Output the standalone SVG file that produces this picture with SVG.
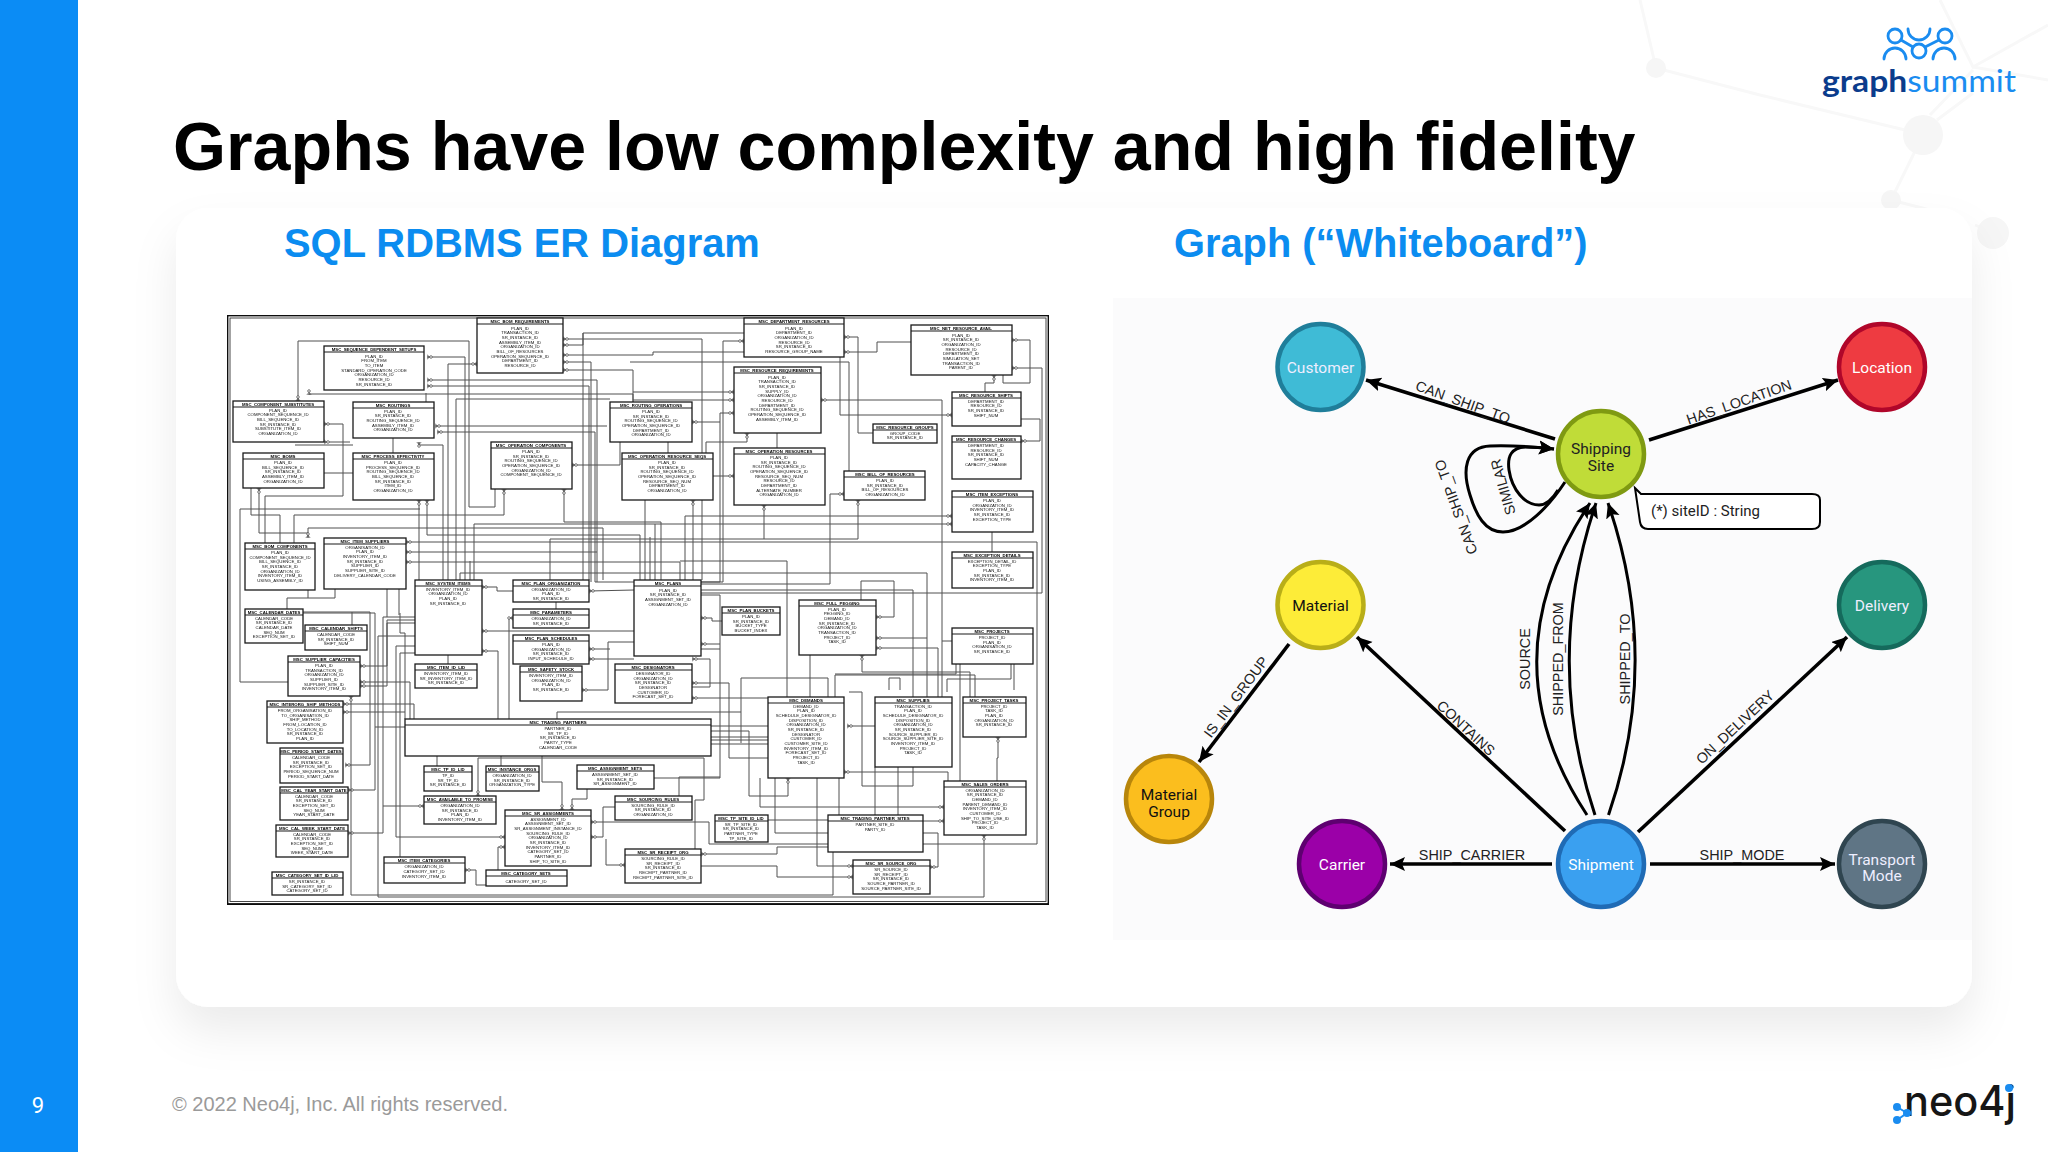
<svg xmlns="http://www.w3.org/2000/svg" width="2048" height="1152" viewBox="0 0 2048 1152">
<style>
.ln{fill:none;stroke:#505050;stroke-width:1}
.t rect{fill:#fff;stroke:#1a1a1a;stroke-width:1.3}
.t path{stroke:#1a1a1a;stroke-width:1.2;fill:none}
.t text{font-family:"Liberation Sans",Arial,sans-serif;fill:#111;text-anchor:middle}
.t .h{font-size:4.3px;font-weight:700;fill:#000}
.t .r{font-size:4.3px}
.e{fill:none;stroke:#000;stroke-width:3.6;marker-end:url(#ah)}
.e2{fill:none;stroke:#000;stroke-width:3;marker-end:url(#ah)}
.el{font-family:"Liberation Sans",Arial,sans-serif;font-size:14.4px;fill:#222;text-anchor:middle}
.n circle{stroke-width:4.5}
.n text{font-family:Roboto,sans-serif;font-size:15.5px;text-anchor:middle}
.bg{fill:none;stroke:#f8f8f8;stroke-width:3}
.bd{fill:#f6f6f6}
</style>
<defs>
<marker id="ah" markerUnits="userSpaceOnUse" markerWidth="18" markerHeight="16" refX="15" refY="7" orient="auto"><path d="M0,0L15,7L0,14L3,7Z" fill="#000"/></marker>
<marker id="m" markerUnits="userSpaceOnUse" markerWidth="8" markerHeight="8" refX="0" refY="4" orient="auto"><path d="M0,1.8L2.6,4L0,6.2M2.6,4H0" fill="none" stroke="#444" stroke-width=".7"/><circle cx="4" cy="4" r="1.3" fill="#fff" stroke="#444" stroke-width=".7"/></marker>
<filter id="card" x="-5%" y="-8%" width="110%" height="118%"><feDropShadow dx="0" dy="24" stdDeviation="22" flood-color="#000" flood-opacity=".08"/></filter>
<filter id="soft" x="0" y="0" width="100%" height="100%"><feGaussianBlur stdDeviation=".3"/></filter>
</defs>

<rect width="2048" height="1152" fill="#fff"/>
<g id="bg-network">
<path class="bg" d="M1656,68L1760,95L1905,130M1923,135L1891,200M1937,120L1973,93M1940,0L1973,67L2048,25M1973,67L2048,80M1973,70L1930,115M1656,68L1640,0M1891,200L1930,210M1975,225L1993,233"/>
<circle class="bd" cx="1656" cy="68" r="10"/><circle class="bd" cx="1923" cy="135" r="20"/><circle class="bd" cx="1891" cy="200" r="10"/><circle class="bd" cx="1993" cy="233" r="16"/>
</g>
<rect id="card-panel" x="176" y="208" width="1796" height="799" rx="32" fill="#fff" filter="url(#card)"/>
<rect id="graph-panel" x="1113" y="298" width="859" height="642" fill="#fbfbfc"/>
<rect id="side-bar" x="0" y="0" width="78" height="1152" fill="#0b8cf5"/>
<text x="38" y="1113" font-family="Roboto,sans-serif" font-size="22" fill="#fff" text-anchor="middle">9</text>
<text id="title" x="173" y="170" font-family="'Liberation Sans',Arial,sans-serif" font-weight="700" font-size="68.200" fill="#000">Graphs have low complexity and high fidelity</text>
<text x="284" y="257" font-family="'Liberation Sans',Arial,sans-serif" font-weight="700" font-size="39.900" fill="#0b8cf0">SQL RDBMS ER Diagram</text>
<text x="1174" y="257" font-family="'Liberation Sans',Arial,sans-serif" font-weight="700" font-size="39.800" fill="#0b8cf0">Graph (“Whiteboard”)</text>
<text x="172" y="1111" font-family="'Liberation Sans',Arial,sans-serif" font-size="20" fill="#9a9a9a">© 2022 Neo4j, Inc. All rights reserved.</text>

<g id="logo-graphsummit">
<g fill="none" stroke="#1a8cf0" stroke-width="2.8" stroke-linecap="round">
<circle cx="1895" cy="36" r="7"/><circle cx="1919" cy="51" r="7"/><circle cx="1945" cy="36" r="7"/>
<path d="M1901,40L1913,47M1925,47L1939,40M1908,29A11,11 0 0 0 1930,29M1884,59A11,11 0 0 1 1906,59M1933,59A11,11 0 0 1 1955,59"/>
</g>
<text x="1822" y="92" font-family="Lato,'Open Sans',sans-serif" font-size="31" textLength="194" lengthAdjust="spacingAndGlyphs"><tspan font-weight="700" fill="#0b3c8c">graph</tspan><tspan fill="#1a8cf0">summit</tspan></text>
</g>
<g id="logo-neo4j">
<text x="1904" y="1116" font-family="Inter,sans-serif" font-weight="500" font-size="42" fill="#161616" textLength="112" lengthAdjust="spacingAndGlyphs">neo4j</text>
<circle cx="2009" cy="1088" r="4" fill="#1a8cf0"/>
<path d="M1897,1107L1907,1113L1897,1120" fill="none" stroke="#1a8cf0" stroke-width="2"/>
<circle cx="1897" cy="1107" r="4" fill="#1a8cf0"/><circle cx="1907" cy="1113" r="4" fill="#1a8cf0"/><circle cx="1897" cy="1120" r="4" fill="#1a8cf0"/>
</g>

<g id="er-diagram" filter="url(#soft)">
<rect x="227" y="315" width="822" height="589.500" fill="#fff" stroke="#111" stroke-width="2.8"/>
<rect x="230" y="318" width="816" height="583.500" fill="none" stroke="#333" stroke-width=".9"/>
<g id="er-connectors" class="ln">
<g marker-start="url(#m)">
<polyline points="298,401 298,341 469,341 469,507 495,507 495,489"/>
<polyline points="309,395 309,394 633,394 633,402"/>
<polyline points="427,357 465,357 465,580"/>
<polyline points="427,380 597,380 597,582"/>
<polyline points="427,386 589,386 589,580"/>
<polyline points="477,364 448,364 448,580"/>
<polyline points="435,426 607,426"/>
<polyline points="437,432 595,432 595,582 634,582"/>
<polyline points="419,442 419,445 443,445 443,580"/>
<polyline points="324,424 343,424 343,496 265,496 265,543"/>
<polyline points="324,442 350,442"/>
<polyline points="259,488 259,533 308,533"/>
<polyline points="419,500 419,580"/>
<polyline points="427,500 427,535 640,535 640,580"/>
<polyline points="504,489 504,515 294,515 294,543"/>
<polyline points="308,538 308,528 603,528 603,580"/>
<polyline points="564,489 564,522 661,522 661,580"/>
<polyline points="572,465 620,465 620,442"/>
<polyline points="563,345 583,345 583,333 744,333"/>
<polyline points="563,339 702,339 702,580"/>
<polyline points="563,355 653,355 653,352 744,352"/>
<polyline points="563,362 591,362 591,582"/>
<polyline points="563,370 633,370 633,402"/>
<polyline points="406,542 1037,542 1037,844 923,844"/>
<polyline points="406,552 597,552"/>
<polyline points="406,562 680,562 680,580"/>
<polyline points="744,341 723,341 723,582 701,582"/>
<polyline points="844,337 858,337 858,433 873,433"/>
<polyline points="844,352 877,352 877,342 911,342"/>
<polyline points="952,415 840,415 840,357"/>
<polyline points="1012,340 1030,340 1030,383 1003,383 1003,375"/>
<polyline points="1012,368 1042,368 1042,593 701,593"/>
<polyline points="994,375 994,383 985,383 985,392"/>
<polyline points="1021,441 1040,441 1040,419 1021,419"/>
<polyline points="821,400 942,400 942,697"/>
<polyline points="734,392 633,392"/>
<polyline points="734,400 633,400"/>
<polyline points="734,413 720,413 720,582 701,582"/>
<polyline points="747,433 747,442 706,442 706,453"/>
<polyline points="734,476 713,476"/>
<polyline points="692,422 720,422"/>
<polyline points="693,500 693,580"/>
<polyline points="858,500 858,539 550,539 550,580"/>
<polyline points="764,505 764,539"/>
<polyline points="844,494 830,494 830,584 701,584"/>
<polyline points="952,516 685,516 685,580"/>
<polyline points="952,524 474,524 474,580"/>
<polyline points="701,618 712,618 712,621 722,621"/>
<polyline points="701,644 720,644"/>
<polyline points="692,659 710,659 710,687 692,687"/>
<polyline points="692,683 729,683 729,758 768,758"/>
<polyline points="692,698 768,698"/>
<polyline points="876,617 894,617 894,581 861,581 861,600"/>
<polyline points="876,638 927,638"/>
<polyline points="876,648 938,648 938,697"/>
<polyline points="862,655 862,672 970,672 970,697"/>
<polyline points="847,726 875,726"/>
<polyline points="788,778 788,796 749,796 749,731 711,731"/>
<polyline points="844,772 948,772 948,781"/>
<polyline points="944,807 760,807 760,778"/>
<polyline points="944,821 923,821"/>
<polyline points="984,835 984,897 378,897 378,636 415,636"/>
<polyline points="930,867 938,867 938,833 923,833"/>
<polyline points="998,737 998,758 997,758 997,781"/>
<polyline points="701,854 777,854 777,847 828,847"/>
<polyline points="853,866 817,866 817,778"/>
<polyline points="853,877 777,877 777,866 701,866"/>
<polyline points="345,765 370,765 370,612 303,612"/>
<polyline points="348,790 375,790 375,613 303,613"/>
<polyline points="348,833 383,833 383,617 415,617"/>
<polyline points="360,666 387,666 387,620 415,620"/>
<polyline points="360,682 410,682 410,719"/>
<polyline points="360,686 387,686 387,623 415,623"/>
<polyline points="343,704 414,704 414,719"/>
<polyline points="343,712 405,712"/>
<polyline points="351,696 351,895 833,895 833,852"/>
<polyline points="424,806 383,806"/>
<polyline points="505,837 396,837 396,646 415,646"/>
<polyline points="505,847 498,847 498,870"/>
<polyline points="465,870 476,870 476,885 486,885"/>
<polyline points="482,651 498,651 498,719"/>
<polyline points="482,631 634,631"/>
<polyline points="513,618 509,618 509,719"/>
<polyline points="582,690 608,690 608,642 634,642"/>
<polyline points="589,649 610,649"/>
<polyline points="589,659 634,659"/>
<polyline points="591,822 709,822 709,844 828,844"/>
<polyline points="591,837 603,837 603,807 615,807"/>
<polyline points="625,865 606,865 606,839"/>
<polyline points="482,587 497,587 497,591 513,591"/>
<polyline points="589,591 634,590"/>
<polyline points="478,796 478,758 704,758 704,800 695,800 695,849"/>
<polyline points="562,810 562,782 542,782 542,756"/>
<polyline points="572,810 572,799 587,799 587,789"/>
</g>
<polyline points="456,580 456,399 610,399"/>
<polyline points="426,393 426,402"/>
<polyline points="393,438 393,453"/>
<polyline points="295,445 353,445"/>
<polyline points="324,473 353,473"/>
<polyline points="251,488 251,515 280,515 280,543"/>
<polyline points="240,509 420,509"/>
<polyline points="240,509 240,682 288,682"/>
<polyline points="460,580 460,573 927,573 927,697"/>
<polyline points="470,580 470,561"/>
<polyline points="583,333 583,580"/>
<polyline points="849,362 630,362"/>
<polyline points="849,362 849,471"/>
<polyline points="777,433 777,448"/>
<polyline points="668,442 668,453"/>
<polyline points="645,500 645,580"/>
<polyline points="650,537 650,580"/>
<polyline points="655,524 655,580"/>
<polyline points="992,532 992,552"/>
<polyline points="680,561 787,561 787,697"/>
<polyline points="701,590 913,590 913,697"/>
<polyline points="701,595 720,595 720,778 653,778"/>
<polyline points="741,678 741,743"/>
<polyline points="741,678 828,678 828,697"/>
<polyline points="701,649 720,649"/>
<polyline points="835,697 835,675 975,675 975,697"/>
<polyline points="810,655 810,697"/>
<polyline points="889,690 889,678 900,678 900,690"/>
<polyline points="947,692 947,679 1011,679 1011,664"/>
<polyline points="1014,664 1014,690"/>
<polyline points="960,664 960,781"/>
<polyline points="952,641 942,641"/>
<polyline points="956,664 956,674 835,674"/>
<polyline points="711,726 768,726"/>
<polyline points="711,737 768,737"/>
<polyline points="711,740 768,740"/>
<polyline points="711,744 768,744"/>
<polyline points="898,767 898,815"/>
<polyline points="875,767 875,815"/>
<polyline points="839,778 839,815"/>
<polyline points="775,778 775,833 828,833"/>
<polyline points="768,820 828,820"/>
<polyline points="862,692 849,692"/>
<polyline points="862,692 862,786 913,786 913,767"/>
<polyline points="679,796 679,777 720,777"/>
<polyline points="557,719 557,712 741,712"/>
<polyline points="352,612 352,625"/>
<polyline points="375,727 405,727"/>
<polyline points="400,613 400,633 405,633 405,719"/>
<polyline points="387,589 387,617"/>
<polyline points="400,653 415,653"/>
<polyline points="400,653 400,857"/>
<polyline points="437,756 437,766"/>
<polyline points="501,756 501,766"/>
<polyline points="287,609 287,598 335,598 335,589"/>
<polyline points="308,590 308,598"/>
<polyline points="399,589 399,615"/>
<polyline points="448,655 448,664"/>
<polyline points="556,602 556,609"/>
</g>

<g id="er-tables" class="t">
<g id="t-bomreq"><rect x="477" y="318" width="86" height="55"/><path d="M477,324h86"/><text class="h" x="520" y="322.700">MSC_BOM_REQUIREMENTS</text><text class="r"><tspan x="520" y="329.500">PLAN_ID</tspan><tspan x="520" dy="4.670">TRANSACTION_ID</tspan><tspan x="520" dy="4.670">SR_INSTANCE_ID</tspan><tspan x="520" dy="4.670">ASSEMBLY_ITEM_ID</tspan><tspan x="520" dy="4.670">ORGANIZATION_ID</tspan><tspan x="520" dy="4.670">BILL_OF_RESOURCES</tspan><tspan x="520" dy="4.670">OPERATION_SEQUENCE_ID</tspan><tspan x="520" dy="4.670">DEPARTMENT_ID</tspan><tspan x="520" dy="4.670">RESOURCE_ID</tspan></text></g>
<g id="t-seq"><rect x="324" y="346" width="100" height="44"/><path d="M324,352h100"/><text class="h" x="374" y="350.700">MSC_SEQUENCE_DEPENDENT_SETUPS</text><text class="r"><tspan x="374" y="357.500">PLAN_ID</tspan><tspan x="374" dy="4.670">FROM_ITEM</tspan><tspan x="374" dy="4.670">TO_ITEM</tspan><tspan x="374" dy="4.670">STANDARD_OPERATION_CODE</tspan><tspan x="374" dy="4.670">ORGANIZATION_ID</tspan><tspan x="374" dy="4.670">RESOURCE_ID</tspan><tspan x="374" dy="4.670">SR_INSTANCE_ID</tspan></text></g>
<g id="t-compsub"><rect x="233" y="401" width="91" height="41"/><path d="M233,407h91"/><text class="h" x="278" y="405.700">MSC_COMPONENT_SUBSTITUTES</text><text class="r"><tspan x="278" y="411.500">PLAN_ID</tspan><tspan x="278" dy="4.670">COMPONENT_SEQUENCE_ID</tspan><tspan x="278" dy="4.670">BILL_SEQUENCE_ID</tspan><tspan x="278" dy="4.670">SR_INSTANCE_ID</tspan><tspan x="278" dy="4.670">SUBSTITUTE_ITEM_ID</tspan><tspan x="278" dy="4.670">ORGANIZATION_ID</tspan></text></g>
<g id="t-routings"><rect x="353" y="402" width="81" height="36"/><path d="M353,408h81"/><text class="h" x="393" y="406.700">MSC_ROUTINGS</text><text class="r"><tspan x="393" y="412.500">PLAN_ID</tspan><tspan x="393" dy="4.670">SR_INSTANCE_ID</tspan><tspan x="393" dy="4.670">ROUTING_SEQUENCE_ID</tspan><tspan x="393" dy="4.670">ASSEMBLY_ITEM_ID</tspan><tspan x="393" dy="4.670">ORGANIZATION_ID</tspan></text></g>
<g id="t-boms"><rect x="243" y="453" width="81" height="35"/><path d="M243,459h81"/><text class="h" x="283" y="457.700">MSC_BOMS</text><text class="r"><tspan x="283" y="464">PLAN_ID</tspan><tspan x="283" dy="4.670">BILL_SEQUENCE_ID</tspan><tspan x="283" dy="4.670">SR_INSTANCE_ID</tspan><tspan x="283" dy="4.670">ASSEMBLY_ITEM_ID</tspan><tspan x="283" dy="4.670">ORGANIZATION_ID</tspan></text></g>
<g id="t-proceff"><rect x="353" y="453" width="81" height="47"/><path d="M353,459h81"/><text class="h" x="393" y="457.700">MSC_PROCESS_EFFECTIVITY</text><text class="r"><tspan x="393" y="464">PLAN_ID</tspan><tspan x="393" dy="4.670">PROCESS_SEQUENCE_ID</tspan><tspan x="393" dy="4.670">ROUTING_SEQUENCE_ID</tspan><tspan x="393" dy="4.670">BILL_SEQUENCE_ID</tspan><tspan x="393" dy="4.670">SR_INSTANCE_ID</tspan><tspan x="393" dy="4.670">ITEM_ID</tspan><tspan x="393" dy="4.670">ORGANIZATION_ID</tspan></text></g>
<g id="t-opcomp"><rect x="491" y="442" width="81" height="47"/><path d="M491,448h81"/><text class="h" x="531" y="446.700">MSC_OPERATION_COMPONENTS</text><text class="r"><tspan x="531" y="453">PLAN_ID</tspan><tspan x="531" dy="4.670">SR_INSTANCE_ID</tspan><tspan x="531" dy="4.670">ROUTING_SEQUENCE_ID</tspan><tspan x="531" dy="4.670">OPERATION_SEQUENCE_ID</tspan><tspan x="531" dy="4.670">ORGANIZATION_ID</tspan><tspan x="531" dy="4.670">COMPONENT_SEQUENCE_ID</tspan></text></g>
<g id="t-bomcomp"><rect x="245" y="543" width="70" height="47"/><path d="M245,549h70"/><text class="h" x="280" y="547.700">MSC_BOM_COMPONENTS</text><text class="r"><tspan x="280" y="554">PLAN_ID</tspan><tspan x="280" dy="4.670">COMPONENT_SEQUENCE_ID</tspan><tspan x="280" dy="4.670">BILL_SEQUENCE_ID</tspan><tspan x="280" dy="4.670">SR_INSTANCE_ID</tspan><tspan x="280" dy="4.670">ORGANIZATION_ID</tspan><tspan x="280" dy="4.670">INVENTORY_ITEM_ID</tspan><tspan x="280" dy="4.670">USING_ASSEMBLY_ID</tspan></text></g>
<g id="t-itemsup"><rect x="324" y="538" width="82" height="51"/><path d="M324,544h82"/><text class="h" x="365" y="542.700">MSC_ITEM_SUPPLIERS</text><text class="r"><tspan x="365" y="548.500">ORGANISATION_ID</tspan><tspan x="365" dy="4.670">PLAN_ID</tspan><tspan x="365" dy="4.670">INVENTORY_ITEM_ID</tspan><tspan x="365" dy="4.670">SR_INSTANCE_ID</tspan><tspan x="365" dy="4.670">SUPPLIER_ID</tspan><tspan x="365" dy="4.670">SUPPLIER_SITE_ID</tspan><tspan x="365" dy="4.670">DELIVERY_CALENDAR_CODE</tspan></text></g>
<g id="t-sysitems"><rect x="415" y="580" width="67" height="75"/><path d="M415,586h67"/><text class="h" x="448" y="584.700">MSC_SYSTEM_ITEMS</text><text class="r"><tspan x="448" y="590.500">INVENTORY_ITEM_ID</tspan><tspan x="448" dy="4.670">ORGANIZATION_ID</tspan><tspan x="448" dy="4.670">PLAN_ID</tspan><tspan x="448" dy="4.670">SR_INSTANCE_ID</tspan></text></g>
<g id="t-planorg"><rect x="513" y="580" width="76" height="22"/><path d="M513,586h76"/><text class="h" x="551" y="584.700">MSC_PLAN_ORGANIZATION</text><text class="r"><tspan x="551" y="590.500">ORGANIZATION_ID</tspan><tspan x="551" dy="4.670">PLAN_ID</tspan><tspan x="551" dy="4.670">SR_INSTANCE_ID</tspan></text></g>
<g id="t-params"><rect x="513" y="609" width="76" height="19"/><path d="M513,615h76"/><text class="h" x="551" y="613.500">MSC_PARAMETERS</text><text class="r"><tspan x="551" y="620">ORGANIZATION_ID</tspan><tspan x="551" dy="4.670">SR_INSTANCE_ID</tspan></text></g>
<g id="t-plansched"><rect x="513" y="635" width="76" height="29"/><path d="M513,641h76"/><text class="h" x="551" y="639.500">MSC_PLAN_SCHEDULES</text><text class="r"><tspan x="551" y="646">PLAN_ID</tspan><tspan x="551" dy="4.670">ORGANIZATION_ID</tspan><tspan x="551" dy="4.670">SR_INSTANCE_ID</tspan><tspan x="551" dy="4.670">INPUT_SCHEDULE_ID</tspan></text></g>
<g id="t-safety"><rect x="520" y="666" width="62" height="35"/><path d="M520,672h62"/><text class="h" x="551" y="670.700">MSC_SAFETY_STOCK</text><text class="r"><tspan x="551" y="677">INVENTORY_ITEM_ID</tspan><tspan x="551" dy="4.670">ORGANIZATION_ID</tspan><tspan x="551" dy="4.670">PLAN_ID</tspan><tspan x="551" dy="4.670">SR_INSTANCE_ID</tspan></text></g>
<g id="t-caldates"><rect x="245" y="609" width="58" height="34"/><path d="M245,615h58"/><text class="h" x="274" y="613.500">MSC_CALENDAR_DATES</text><text class="r"><tspan x="274" y="619.500">CALENDAR_CODE</tspan><tspan x="274" dy="4.670">SR_INSTANCE_ID</tspan><tspan x="274" dy="4.670">CALENDAR_DATE</tspan><tspan x="274" dy="4.670">SEQ_NUM</tspan><tspan x="274" dy="4.670">EXCEPTION_SET_ID</tspan></text></g>
<g id="t-calshifts"><rect x="305" y="625" width="62" height="25"/><path d="M305,631h62"/><text class="h" x="336" y="629.700">MSC_CALENDAR_SHIFTS</text><text class="r"><tspan x="336" y="636">CALENDAR_CODE</tspan><tspan x="336" dy="4.670">SR_INSTANCE_ID</tspan><tspan x="336" dy="4.670">SHIFT_NUM</tspan></text></g>
<g id="t-supcap"><rect x="288" y="656" width="72" height="40"/><path d="M288,662h72"/><text class="h" x="324" y="660.700">MSC_SUPPLIER_CAPACITIES</text><text class="r"><tspan x="324" y="667">PLAN_ID</tspan><tspan x="324" dy="4.670">TRANSACTION_ID</tspan><tspan x="324" dy="4.670">ORGANIZATION_ID</tspan><tspan x="324" dy="4.670">SUPPLIER_ID</tspan><tspan x="324" dy="4.670">SUPPLIER_SITE_ID</tspan><tspan x="324" dy="4.670">INVENTORY_ITEM_ID</tspan></text></g>
<g id="t-interorg"><rect x="267" y="701" width="76" height="42"/><path d="M267,707h76"/><text class="h" x="305" y="705.700">MSC_INTERORG_SHIP_METHODS</text><text class="r"><tspan x="305" y="712">FROM_ORGANISATION_ID</tspan><tspan x="305" dy="4.670">TO_ORGANISATION_ID</tspan><tspan x="305" dy="4.670">SHIP_METHOD</tspan><tspan x="305" dy="4.670">FROM_LOCATION_ID</tspan><tspan x="305" dy="4.670">TO_LOCATION_ID</tspan><tspan x="305" dy="4.670">SR_INSTANCE_ID</tspan><tspan x="305" dy="4.670">PLAN_ID</tspan></text></g>
<g id="t-period"><rect x="280" y="748" width="63" height="35"/><path d="M280,754h63"/><text class="h" x="311" y="752.500">MSC_PERIOD_START_DATES</text><text class="r"><tspan x="311" y="759">CALENDAR_CODE</tspan><tspan x="311" dy="4.670">SR_INSTANCE_ID</tspan><tspan x="311" dy="4.670">EXCEPTION_SET_ID</tspan><tspan x="311" dy="4.670">PERIOD_SEQUENCE_NUM</tspan><tspan x="311" dy="4.670">PERIOD_START_DATE</tspan></text></g>
<g id="t-calyear"><rect x="280" y="787" width="68" height="33"/><path d="M280,793h68"/><text class="h" x="314" y="791.500">MSC_CAL_YEAR_START_DATE</text><text class="r"><tspan x="314" y="797.500">CALENDAR_CODE</tspan><tspan x="314" dy="4.670">SR_INSTANCE_ID</tspan><tspan x="314" dy="4.670">EXCEPTION_SET_ID</tspan><tspan x="314" dy="4.670">SEQ_NUM</tspan><tspan x="314" dy="4.670">YEAR_START_DATE</tspan></text></g>
<g id="t-calweek"><rect x="276" y="825" width="72" height="32"/><path d="M276,831h72"/><text class="h" x="312" y="829.500">MSC_CAL_WEEK_START_DATE</text><text class="r"><tspan x="312" y="835.500">CALENDAR_CODE</tspan><tspan x="312" dy="4.670">SR_INSTANCE_ID</tspan><tspan x="312" dy="4.670">EXCEPTION_SET_ID</tspan><tspan x="312" dy="4.670">SEQ_NUM</tspan><tspan x="312" dy="4.670">WEEK_START_DATE</tspan></text></g>
<g id="t-catlid"><rect x="272" y="872" width="71" height="23"/><path d="M272,878h71"/><text class="h" x="307" y="876.500">MSC_CATEGORY_SET_ID_LID</text><text class="r"><tspan x="307" y="883">SR_INSTANCE_ID</tspan><tspan x="307" dy="4.670">SR_CATEGORY_SET_ID</tspan><tspan x="307" dy="4.670">CATEGORY_SET_ID</tspan></text></g>
<g id="t-itemlid"><rect x="415" y="664" width="62" height="24"/><path d="M415,670h62"/><text class="h" x="446" y="668.500">MSC_ITEM_ID_LID</text><text class="r"><tspan x="446" y="675">INVENTORY_ITEM_ID</tspan><tspan x="446" dy="4.670">SR_INVENTORY_ITEM_ID</tspan><tspan x="446" dy="4.670">SR_INSTANCE_ID</tspan></text></g>
<g id="t-tradpart"><rect x="405" y="719" width="306" height="37"/><path d="M405,725h306"/><text class="h" x="558" y="723.500">MSC_TRADING_PARTNERS</text><text class="r"><tspan x="558" y="730">PARTNER_ID</tspan><tspan x="558" dy="4.670">SR_TP_ID</tspan><tspan x="558" dy="4.670">SR_INSTANCE_ID</tspan><tspan x="558" dy="4.670">PARTY_TYPE</tspan><tspan x="558" dy="4.670">CALENDAR_CODE</tspan></text></g>
<g id="t-tplid"><rect x="424" y="766" width="48" height="25"/><path d="M424,772h48"/><text class="h" x="448" y="770.500">MSC_TP_ID_LID</text><text class="r"><tspan x="448" y="777">TP_ID</tspan><tspan x="448" dy="4.670">SR_TP_ID</tspan><tspan x="448" dy="4.670">SR_INSTANCE_ID</tspan></text></g>
<g id="t-instorg"><rect x="486" y="766" width="53" height="25"/><path d="M486,772h53"/><text class="h" x="512" y="770.500">MSC_INSTANCE_ORGS</text><text class="r"><tspan x="512" y="777">ORGANIZATION_ID</tspan><tspan x="512" dy="4.670">SR_INSTANCE_ID</tspan><tspan x="512" dy="4.670">ORGANIZATION_TYPE</tspan></text></g>
<g id="t-atp"><rect x="424" y="796" width="72" height="28"/><path d="M424,802h72"/><text class="h" x="460" y="800.500">MSC_AVAILABLE_TO_PROMISE</text><text class="r"><tspan x="460" y="807">ORGANIZATION_ID</tspan><tspan x="460" dy="4.670">SR_INSTANCE_ID</tspan><tspan x="460" dy="4.670">PLAN_ID</tspan><tspan x="460" dy="4.670">INVENTORY_ITEM_ID</tspan></text></g>
<g id="t-srassign"><rect x="505" y="810" width="86" height="56"/><path d="M505,816h86"/><text class="h" x="548" y="814.500">MSC_SR_ASSIGNMENTS</text><text class="r"><tspan x="548" y="820.500">ASSIGNMENT_ID</tspan><tspan x="548" dy="4.670">ASSIGNMENT_SET_ID</tspan><tspan x="548" dy="4.670">SR_ASSIGNMENT_INSTANCE_ID</tspan><tspan x="548" dy="4.670">SOURCING_RULE_ID</tspan><tspan x="548" dy="4.670">ORGANIZATION_ID</tspan><tspan x="548" dy="4.670">SR_INSTANCE_ID</tspan><tspan x="548" dy="4.670">INVENTORY_ITEM_ID</tspan><tspan x="548" dy="4.670">CATEGORY_SET_ID</tspan><tspan x="548" dy="4.670">PARTNER_ID</tspan><tspan x="548" dy="4.670">SHIP_TO_SITE_ID</tspan></text></g>
<g id="t-itemcat"><rect x="384" y="857" width="81" height="26"/><path d="M384,863h81"/><text class="h" x="424" y="861.500">MSC_ITEM_CATEGORIES</text><text class="r"><tspan x="424" y="868">ORGANIZATION_ID</tspan><tspan x="424" dy="4.670">CATEGORY_SET_ID</tspan><tspan x="424" dy="5.500">INVENTORY_ITEM_ID</tspan></text></g>
<g id="t-catsets"><rect x="486" y="870" width="81" height="16"/><path d="M486,876h81"/><text class="h" x="526" y="874.500">MSC_CATEGORY_SETS</text><text class="r" x="526" y="882.500">CATEGORY_SET_ID</text></g>
<g id="t-assignsets"><rect x="577" y="765" width="77" height="24"/><path d="M577,771h77"/><text class="h" x="615" y="769.500">MSC_ASSIGNMENT_SETS</text><text class="r"><tspan x="615" y="776">ASSIGNMENT_SET_ID</tspan><tspan x="615" dy="4.670">SR_INSTANCE_ID</tspan><tspan x="615" dy="4.670">SR_ASSIGNMENT_ID</tspan></text></g>
<g id="t-sourcing"><rect x="615" y="796" width="77" height="24"/><path d="M615,802h77"/><text class="h" x="653" y="800.500">MSC_SOURCING_RULES</text><text class="r"><tspan x="653" y="806.500">SOURCING_RULE_ID</tspan><tspan x="653" dy="4.670">SR_INSTANCE_ID</tspan><tspan x="653" dy="4.670">ORGANIZATION_ID</tspan></text></g>
<g id="t-srreceipt"><rect x="625" y="849" width="76" height="34"/><path d="M625,855h76"/><text class="h" x="663" y="853.500">MSC_SR_RECEIPT_ORG</text><text class="r"><tspan x="663" y="860">SOURCING_RULE_ID</tspan><tspan x="663" dy="4.670">SR_RECEIPT_ID</tspan><tspan x="663" dy="4.670">SR_INSTANCE_ID</tspan><tspan x="663" dy="4.670">RECEIPT_PARTNER_ID</tspan><tspan x="663" dy="4.670">RECEIPT_PARTNER_SITE_ID</tspan></text></g>
<g id="t-designators"><rect x="615" y="664" width="77" height="39"/><path d="M615,670h77"/><text class="h" x="653" y="668.500">MSC_DESIGNATORS</text><text class="r"><tspan x="653" y="675">DESIGNATOR_ID</tspan><tspan x="653" dy="4.670">ORGANIZATION_ID</tspan><tspan x="653" dy="4.670">SR_INSTANCE_ID</tspan><tspan x="653" dy="4.670">DESIGNATOR</tspan><tspan x="653" dy="4.670">CUSTOMER_ID</tspan><tspan x="653" dy="4.670">FORECAST_SET_ID</tspan></text></g>
<g id="t-plans"><rect x="634" y="580" width="67" height="76"/><path d="M634,586h67"/><text class="h" x="668" y="584.700">MSC_PLANS</text><text class="r"><tspan x="668" y="591.500">PLAN_ID</tspan><tspan x="668" dy="4.670">SR_INSTANCE_ID</tspan><tspan x="668" dy="4.670">ASSIGNMENT_SET_ID</tspan><tspan x="668" dy="4.670">ORGANIZATION_ID</tspan></text></g>
<g id="t-planbuckets"><rect x="722" y="607" width="58" height="28"/><path d="M722,613h58"/><text class="h" x="751" y="611.500">MSC_PLAN_BUCKETS</text><text class="r"><tspan x="751" y="618">PLAN_ID</tspan><tspan x="751" dy="4.670">SR_INSTANCE_ID</tspan><tspan x="751" dy="4.670">BUCKET_TYPE</tspan><tspan x="751" dy="4.670">BUCKET_INDEX</tspan></text></g>
<g id="t-pegging"><rect x="799" y="600" width="77" height="55"/><path d="M799,606h77"/><text class="h" x="837" y="604.500">MSC_FULL_PEGGING</text><text class="r"><tspan x="837" y="610.500">PLAN_ID</tspan><tspan x="837" dy="4.670">PEGGING_ID</tspan><tspan x="837" dy="4.670">DEMAND_ID</tspan><tspan x="837" dy="4.670">SR_INSTANCE_ID</tspan><tspan x="837" dy="4.670">ORGANIZATION_ID</tspan><tspan x="837" dy="4.670">TRANSACTION_ID</tspan><tspan x="837" dy="4.670">PROJECT_ID</tspan><tspan x="837" dy="4.670">TASK_ID</tspan></text></g>
<g id="t-demands"><rect x="768" y="697" width="76" height="81"/><path d="M768,703h76"/><text class="h" x="806" y="701.500">MSC_DEMANDS</text><text class="r"><tspan x="806" y="707.500">DEMAND_ID</tspan><tspan x="806" dy="4.670">PLAN_ID</tspan><tspan x="806" dy="4.670">SCHEDULE_DESIGNATOR_ID</tspan><tspan x="806" dy="4.670">DISPOSITION_ID</tspan><tspan x="806" dy="4.670">ORGANIZATION_ID</tspan><tspan x="806" dy="4.670">SR_INSTANCE_ID</tspan><tspan x="806" dy="4.670">DESIGNATOR</tspan><tspan x="806" dy="4.670">CUSTOMER_ID</tspan><tspan x="806" dy="4.670">CUSTOMER_SITE_ID</tspan><tspan x="806" dy="4.670">INVENTORY_ITEM_ID</tspan><tspan x="806" dy="4.670">FORECAST_SET_ID</tspan><tspan x="806" dy="4.670">PROJECT_ID</tspan><tspan x="806" dy="4.670">TASK_ID</tspan></text></g>
<g id="t-supplies"><rect x="875" y="697" width="77" height="70"/><path d="M875,703h77"/><text class="h" x="913" y="701.500">MSC_SUPPLIES</text><text class="r"><tspan x="913" y="707.500">TRANSACTION_ID</tspan><tspan x="913" dy="4.670">PLAN_ID</tspan><tspan x="913" dy="4.670">SCHEDULE_DESIGNATOR_ID</tspan><tspan x="913" dy="4.670">DISPOSITION_ID</tspan><tspan x="913" dy="4.670">ORGANIZATION_ID</tspan><tspan x="913" dy="4.670">SR_INSTANCE_ID</tspan><tspan x="913" dy="4.670">SOURCE_SUPPLIER_ID</tspan><tspan x="913" dy="4.670">SOURCE_SUPPLIER_SITE_ID</tspan><tspan x="913" dy="4.670">INVENTORY_ITEM_ID</tspan><tspan x="913" dy="4.670">PROJECT_ID</tspan><tspan x="913" dy="4.670">TASK_ID</tspan></text></g>
<g id="t-prtasks"><rect x="963" y="697" width="63" height="40"/><path d="M963,703h63"/><text class="h" x="994" y="701.500">MSC_PROJECT_TASKS</text><text class="r"><tspan x="994" y="707.500">PROJECT_ID</tspan><tspan x="994" dy="4.670">TASK_ID</tspan><tspan x="994" dy="4.670">PLAN_ID</tspan><tspan x="994" dy="4.670">ORGANIZATION_ID</tspan><tspan x="994" dy="4.670">SR_INSTANCE_ID</tspan></text></g>
<g id="t-projects"><rect x="952" y="628" width="81" height="36"/><path d="M952,634h81"/><text class="h" x="992" y="632.500">MSC_PROJECTS</text><text class="r"><tspan x="992" y="639">PROJECT_ID</tspan><tspan x="992" dy="4.670">PLAN_ID</tspan><tspan x="992" dy="4.670">ORGANISATION_ID</tspan><tspan x="992" dy="4.670">SR_INSTANCE_ID</tspan></text></g>
<g id="t-sales"><rect x="944" y="781" width="82" height="54"/><path d="M944,787h82"/><text class="h" x="985" y="785.500">MSC_SALES_ORDERS</text><text class="r"><tspan x="985" y="791.500">ORGANIZATION_ID</tspan><tspan x="985" dy="4.670">SR_INSTANCE_ID</tspan><tspan x="985" dy="4.670">DEMAND_ID</tspan><tspan x="985" dy="4.670">PARENT_DEMAND_ID</tspan><tspan x="985" dy="4.670">INVENTORY_ITEM_ID</tspan><tspan x="985" dy="4.670">CUSTOMER_ID</tspan><tspan x="985" dy="4.670">SHIP_TO_SITE_USE_ID</tspan><tspan x="985" dy="4.670">PROJECT_ID</tspan><tspan x="985" dy="4.670">TASK_ID</tspan></text></g>
<g id="t-tpsites"><rect x="828" y="815" width="95" height="37"/><path d="M828,821h95"/><text class="h" x="875" y="819.500">MSC_TRADING_PARTNER_SITES</text><text class="r"><tspan x="875" y="826">PARTNER_SITE_ID</tspan><tspan x="875" dy="4.670">PARTY_ID</tspan></text></g>
<g id="t-tpsitelid"><rect x="715" y="815" width="53" height="27"/><path d="M715,821h53"/><text class="h" x="741" y="819.500">MSC_TP_SITE_ID_LID</text><text class="r"><tspan x="741" y="825.500">SR_TP_SITE_ID</tspan><tspan x="741" dy="4.670">SR_INSTANCE_ID</tspan><tspan x="741" dy="4.670">PARTNER_TYPE</tspan><tspan x="741" dy="4.670">TP_SITE_ID</tspan></text></g>
<g id="t-srsource"><rect x="853" y="860" width="77" height="34"/><path d="M853,866h77"/><text class="h" x="891" y="864.500">MSC_SR_SOURCE_ORG</text><text class="r"><tspan x="891" y="871">SR_SOURCE_ID</tspan><tspan x="891" dy="4.670">SR_RECEIPT_ID</tspan><tspan x="891" dy="4.670">SR_INSTANCE_ID</tspan><tspan x="891" dy="4.670">SOURCE_PARTNER_ID</tspan><tspan x="891" dy="4.670">SOURCE_PARTNER_SITE_ID</tspan></text></g>
<g id="t-depres"><rect x="744" y="318" width="100" height="39"/><path d="M744,324h100"/><text class="h" x="794" y="322.700">MSC_DEPARTMENT_RESOURCES</text><text class="r"><tspan x="794" y="329.500">PLAN_ID</tspan><tspan x="794" dy="4.670">DEPARTMENT_ID</tspan><tspan x="794" dy="4.670">ORGANIZATION_ID</tspan><tspan x="794" dy="4.670">RESOURCE_ID</tspan><tspan x="794" dy="4.670">SR_INSTANCE_ID</tspan><tspan x="794" dy="4.670">RESOURCE_GROUP_NAME</tspan></text></g>
<g id="t-netres"><rect x="911" y="325" width="101" height="50"/><path d="M911,331h101"/><text class="h" x="961" y="329.700">MSC_NET_RESOURCE_AVAIL</text><text class="r"><tspan x="961" y="336.500">PLAN_ID</tspan><tspan x="961" dy="4.670">SR_INSTANCE_ID</tspan><tspan x="961" dy="4.670">ORGANIZATION_ID</tspan><tspan x="961" dy="4.670">RESOURCE_ID</tspan><tspan x="961" dy="4.670">DEPARTMENT_ID</tspan><tspan x="961" dy="4.670">SIMULATION_SET</tspan><tspan x="961" dy="4.670">TRANSACTION_ID</tspan><tspan x="961" dy="4.670">PARENT_ID</tspan></text></g>
<g id="t-resreq"><rect x="734" y="367" width="87" height="66"/><path d="M734,373h87"/><text class="h" x="777" y="371.700">MSC_RESOURCE_REQUIREMENTS</text><text class="r"><tspan x="777" y="378.500">PLAN_ID</tspan><tspan x="777" dy="4.670">TRANSACTION_ID</tspan><tspan x="777" dy="4.670">SR_INSTANCE_ID</tspan><tspan x="777" dy="4.670">SUPPLY_ID</tspan><tspan x="777" dy="4.670">ORGANIZATION_ID</tspan><tspan x="777" dy="4.670">RESOURCE_ID</tspan><tspan x="777" dy="4.670">DEPARTMENT_ID</tspan><tspan x="777" dy="4.670">ROUTING_SEQUENCE_ID</tspan><tspan x="777" dy="4.670">OPERATION_SEQUENCE_ID</tspan><tspan x="777" dy="4.670">ASSEMBLY_ITEM_ID</tspan></text></g>
<g id="t-resshifts"><rect x="952" y="392" width="69" height="34"/><path d="M952,398h69"/><text class="h" x="986" y="396.500">MSC_RESOURCE_SHIFTS</text><text class="r"><tspan x="986" y="402.500">DEPARTMENT_ID</tspan><tspan x="986" dy="4.670">RESOURCE_ID</tspan><tspan x="986" dy="4.670">SR_INSTANCE_ID</tspan><tspan x="986" dy="4.670">SHIFT_NUM</tspan></text></g>
<g id="t-resgroups"><rect x="873" y="424" width="64" height="19"/><path d="M873,430h64"/><text class="h" x="905" y="428.500">MSC_RESOURCE_GROUPS</text><text class="r"><tspan x="905" y="434.500">GROUP_CODE</tspan><tspan x="905" dy="4.670">SR_INSTANCE_ID</tspan></text></g>
<g id="t-reschanges"><rect x="952" y="436" width="69" height="43"/><path d="M952,442h69"/><text class="h" x="986" y="440.500">MSC_RESOURCE_CHANGES</text><text class="r"><tspan x="986" y="447">DEPARTMENT_ID</tspan><tspan x="986" dy="4.670">RESOURCE_ID</tspan><tspan x="986" dy="4.670">SR_INSTANCE_ID</tspan><tspan x="986" dy="4.670">SHIFT_NUM</tspan><tspan x="986" dy="4.670">CAPACITY_CHANGE</tspan></text></g>
<g id="t-opres"><rect x="734" y="448" width="91" height="57"/><path d="M734,454h91"/><text class="h" x="779" y="452.500">MSC_OPERATION_RESOURCES</text><text class="r"><tspan x="779" y="459">PLAN_ID</tspan><tspan x="779" dy="4.670">SR_INSTANCE_ID</tspan><tspan x="779" dy="4.670">ROUTING_SEQUENCE_ID</tspan><tspan x="779" dy="4.670">OPERATION_SEQUENCE_ID</tspan><tspan x="779" dy="4.670">RESOURCE_SEQ_NUM</tspan><tspan x="779" dy="4.670">RESOURCE_ID</tspan><tspan x="779" dy="4.670">DEPARTMENT_ID</tspan><tspan x="779" dy="4.670">ALTERNATE_NUMBER</tspan><tspan x="779" dy="4.670">ORGANIZATION_ID</tspan></text></g>
<g id="t-billres"><rect x="844" y="471" width="81" height="29"/><path d="M844,477h81"/><text class="h" x="885" y="475.500">MSC_BILL_OF_RESOURCES</text><text class="r"><tspan x="885" y="482">PLAN_ID</tspan><tspan x="885" dy="4.670">SR_INSTANCE_ID</tspan><tspan x="885" dy="4.670">BILL_OF_RESOURCES</tspan><tspan x="885" dy="4.670">ORGANIZATION_ID</tspan></text></g>
<g id="t-itemexc"><rect x="952" y="491" width="81" height="41"/><path d="M952,497h81"/><text class="h" x="992" y="495.500">MSC_ITEM_EXCEPTIONS</text><text class="r"><tspan x="992" y="502">PLAN_ID</tspan><tspan x="992" dy="4.670">ORGANIZATION_ID</tspan><tspan x="992" dy="4.670">INVENTORY_ITEM_ID</tspan><tspan x="992" dy="4.670">SR_INSTANCE_ID</tspan><tspan x="992" dy="4.670">EXCEPTION_TYPE</tspan></text></g>
<g id="t-excdet"><rect x="952" y="552" width="81" height="36"/><path d="M952,558h81"/><text class="h" x="992" y="556.500">MSC_EXCEPTION_DETAILS</text><text class="r"><tspan x="992" y="562.500">EXCEPTION_DETAIL_ID</tspan><tspan x="992" dy="4.670">EXCEPTION_TYPE</tspan><tspan x="992" dy="4.670">PLAN_ID</tspan><tspan x="992" dy="4.670">SR_INSTANCE_ID</tspan><tspan x="992" dy="4.670">INVENTORY_ITEM_ID</tspan></text></g>
<g id="t-routops"><rect x="610" y="402" width="82" height="40"/><path d="M610,408h82"/><text class="h" x="651" y="406.700">MSC_ROUTING_OPERATIONS</text><text class="r"><tspan x="651" y="413">PLAN_ID</tspan><tspan x="651" dy="4.670">SR_INSTANCE_ID</tspan><tspan x="651" dy="4.670">ROUTING_SEQUENCE_ID</tspan><tspan x="651" dy="4.670">OPERATION_SEQUENCE_ID</tspan><tspan x="651" dy="4.670">DEPARTMENT_ID</tspan><tspan x="651" dy="4.670">ORGANIZATION_ID</tspan></text></g>
<g id="t-opseq"><rect x="622" y="453" width="91" height="47"/><path d="M622,459h91"/><text class="h" x="667" y="457.700">MSC_OPERATION_RESOURCE_SEQS</text><text class="r"><tspan x="667" y="464">PLAN_ID</tspan><tspan x="667" dy="4.670">SR_INSTANCE_ID</tspan><tspan x="667" dy="4.670">ROUTING_SEQUENCE_ID</tspan><tspan x="667" dy="4.670">OPERATION_SEQUENCE_ID</tspan><tspan x="667" dy="4.670">RESOURCE_SEQ_NUM</tspan><tspan x="667" dy="4.670">DEPARTMENT_ID</tspan><tspan x="667" dy="4.670">ORGANIZATION_ID</tspan></text></g>
</g>
</g>

<g id="connectors">
<path class="e" d="M1555,439L1366,380"/>
<path class="e" d="M1649,440L1838,380"/>
<path class="e2" d="M1565,482C1550,505 1525,532 1503,532C1485,532 1476,515 1470,495C1462,470 1465,447 1490,446C1515,445 1535,447 1554,449"/>
<path class="e2" d="M1558,490C1552,500 1546,505 1539,505C1525,505 1512,490 1509,470C1507,455 1512,448 1525,447C1535,447 1545,448 1554,449"/>
<path class="e2" d="M1587,815Q1485,660 1590,503"/>
<path class="e2" d="M1595,815Q1543,660 1596,503"/>
<path class="e2" d="M1608.500,815Q1662,660 1608,503"/>
<path class="e" d="M1289,644L1199,762"/>
<path class="e" d="M1565,831L1357,637"/>
<path class="e" d="M1638,832L1847,637"/>
<path class="e" d="M1552,864L1390,864"/>
<path class="e" d="M1650,864L1835,864"/>
<g class="el">
<text transform="translate(1463,402) rotate(20)" y="5">CAN_SHIP_TO</text>
<text transform="translate(1739,402) rotate(-19)" y="5">HAS_LOCATION</text>
<text transform="translate(1456,507) rotate(-110)" y="5">CAN_SHIP_TO</text>
<text transform="translate(1503,487) rotate(-106)" y="5">SIMILAR</text>
<text transform="translate(1525,659) rotate(-90)" y="5">SOURCE</text>
<text transform="translate(1558,659) rotate(-90)" y="5">SHIPPED_FROM</text>
<text transform="translate(1625,659) rotate(-90)" y="5">SHIPPED_TO</text>
<text transform="translate(1236,697) rotate(-53)" y="5">IS_IN_GROUP</text>
<text transform="translate(1466,728) rotate(43)" y="5">CONTAINS</text>
<text transform="translate(1735,727) rotate(-43)" y="5">ON_DELIVERY</text>
<text x="1472" y="860">SHIP_CARRIER</text>
<text x="1742" y="860">SHIP_MODE</text>
</g>
</g>

<g id="n-customer" class="n"><circle cx="1320.500" cy="367" r="43" fill="#3FBBD6" stroke="#1F7E9A"/><text x="1320.500" y="373" fill="#eef">Customer</text></g>
<g id="n-location" class="n"><circle cx="1882" cy="367" r="43" fill="#EE3B41" stroke="#B0062A"/><text x="1882" y="373" fill="#fff">Location</text></g>
<g id="n-shipping" class="n"><circle cx="1601" cy="454" r="43" fill="#C0DC38" stroke="#7F9A12"/><text x="1601" y="454" fill="#222">Shipping</text><text x="1601" y="471" fill="#222">Site</text></g>
<g id="n-material" class="n"><circle cx="1320.500" cy="605" r="43" fill="#FDEC38" stroke="#B9AE18"/><text x="1320.500" y="611" fill="#111">Material</text></g>
<g id="n-delivery" class="n"><circle cx="1882" cy="605" r="43" fill="#27967E" stroke="#156A5C"/><text x="1882" y="611" fill="#eef">Delivery</text></g>
<g id="n-matgroup" class="n"><circle cx="1169" cy="799" r="43" fill="#FBBE1E" stroke="#B8860B"/><text x="1169" y="800" fill="#111">Material</text><text x="1169" y="817" fill="#111">Group</text></g>
<g id="n-carrier" class="n"><circle cx="1342" cy="864" r="43" fill="#9B00A8" stroke="#5E0070"/><text x="1342" y="870" fill="#fff">Carrier</text></g>
<g id="n-shipment" class="n"><circle cx="1601" cy="864" r="43" fill="#3AA0F0" stroke="#1F6BB5"/><text x="1601" y="870" fill="#fff">Shipment</text></g>
<g id="n-transport" class="n"><circle cx="1882" cy="864" r="43" fill="#5F7585" stroke="#2F4550"/><text x="1882" y="865" fill="#eef">Transport</text><text x="1882" y="881" fill="#eef">Mode</text></g>
<g id="callout"><path d="M1635,488L1641,494H1812Q1820,494 1820,500V522Q1820,529 1812,529H1648Q1641,529 1640,522Z" fill="#fff" stroke="#000" stroke-width="2"/><text x="1651" y="516" font-family="Roboto,sans-serif" font-size="15" fill="#222">(*) siteID : String</text></g>
</svg>
